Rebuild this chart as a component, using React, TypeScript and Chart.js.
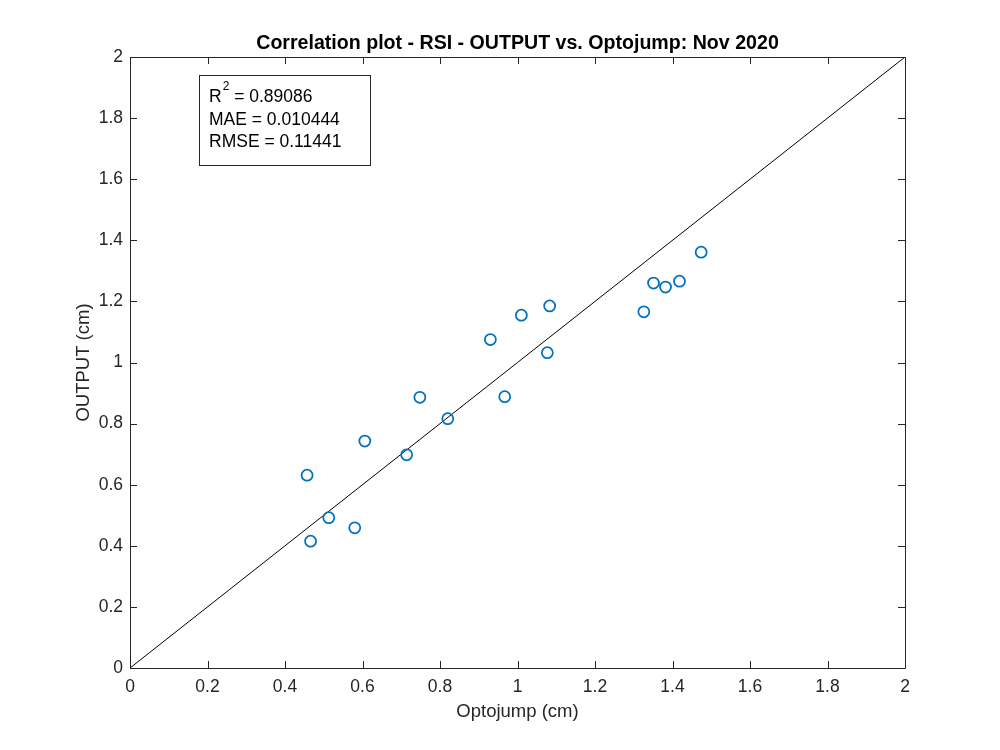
import React, { useEffect, useRef } from "react";
import { Chart, registerables } from "chart.js";

Chart.register(...registerables);

const optojump = [0.457, 0.466, 0.513, 0.58, 0.606, 0.714, 0.748, 0.82, 0.93, 0.967, 1.01, 1.077, 1.083, 1.326, 1.351, 1.382, 1.418, 1.474];
const output = [0.631, 0.415, 0.492, 0.459, 0.743, 0.698, 0.886, 0.816, 1.075, 0.888, 1.155, 1.032, 1.185, 1.166, 1.26, 1.247, 1.266, 1.361];
const identityLine = [0, 2];
const statsLines = ["= 0.89086", "MAE = 0.010444", "RMSE = 0.11441"];
const titleText = "Correlation plot - RSI - OUTPUT vs. Optojump: Nov 2020";
const xLabel = "Optojump (cm)";
const yLabel = "OUTPUT (cm)";

const FONT = "'Liberation Sans', Arial, Helvetica, sans-serif";
const AXIS = "#262626";

const framePlugin = {
  id: "frame",
  afterDatasetsDraw(chart: any) {
    const { ctx, chartArea, scales } = chart;
    const { left, right, top, bottom } = chartArea;
    ctx.save();
    ctx.strokeStyle = AXIS;
    ctx.lineWidth = 1;
    ctx.beginPath();
    ctx.rect(Math.round(left) + 0.5, Math.round(top) + 0.5, Math.round(right - left), Math.round(bottom - top));
    const tl = 7;
    scales.x.ticks.forEach((t: any) => {
      const p = Math.round(scales.x.getPixelForValue(t.value)) + 0.5;
      ctx.moveTo(p, bottom);
      ctx.lineTo(p, bottom - tl);
      ctx.moveTo(p, top);
      ctx.lineTo(p, top + tl);
    });
    scales.y.ticks.forEach((t: any) => {
      const p = Math.round(scales.y.getPixelForValue(t.value)) + 0.5;
      ctx.moveTo(left, p);
      ctx.lineTo(left + tl, p);
      ctx.moveTo(right, p);
      ctx.lineTo(right - tl, p);
    });
    ctx.stroke();

    // title centred over the plot area
    ctx.fillStyle = "#000";
    ctx.textAlign = "center";
    ctx.textBaseline = "alphabetic";
    ctx.font = `bold 19.6px ${FONT}`;
    ctx.fillText(titleText, (left + right) / 2, 49);

    // stats box
    const bx = 199.5, by = 75.5, bw = 171, bh = 90;
    ctx.fillStyle = "#fff";
    ctx.fillRect(bx, by, bw, bh);
    ctx.strokeStyle = AXIS;
    ctx.strokeRect(bx, by, bw, bh);
    ctx.fillStyle = "#000";
    ctx.textAlign = "left";
    ctx.font = `17.5px ${FONT}`;
    const tx = 209;
    ctx.fillText("R", tx, 102);
    const rw = ctx.measureText("R").width;
    ctx.font = `12px ${FONT}`;
    ctx.fillText("2", tx + rw + 1, 90);
    const sw = ctx.measureText("2").width;
    ctx.font = `17.5px ${FONT}`;
    ctx.fillText(" " + statsLines[0], tx + rw + 1 + sw, 102);
    ctx.fillText(statsLines[1], tx, 124.5);
    ctx.fillText(statsLines[2], tx, 147);
    ctx.restore();
  },
};

export default function App() {
  const ref = useRef<HTMLCanvasElement | null>(null);
  useEffect(() => {
    if (!ref.current) return;
    const pts = optojump.map((x, i) => ({ x, y: output[i] }));
    const diag = identityLine.map((v) => ({ x: v, y: v }));
    const chart = new Chart(ref.current, {
      type: "scatter",
      data: {
        datasets: [
          {
            data: pts,
            pointRadius: 5.5,
            pointBorderWidth: 1.75,
            pointBorderColor: "#0072BD",
            pointBackgroundColor: "rgba(0,0,0,0)",
            showLine: false,
            order: 1,
          } as any,
          {
            data: diag,
            showLine: true,
            borderColor: "#000",
            borderWidth: 1,
            pointRadius: 0,
            order: 2,
          } as any,
        ],
      },
      options: {
        animation: false,
        responsive: false,
        layout: { padding: { left: 0, right: 95, top: 57, bottom: 0 } },
        plugins: {
          legend: { display: false },
          tooltip: { enabled: false },
          title: { display: false },
        },
        scales: {
          x: {
            type: "linear",
            min: 0,
            max: 2,
            grid: { display: false, drawTicks: false },
            border: { display: false },
            ticks: {
              stepSize: 0.2,
              color: AXIS,
              padding: 9,
              maxRotation: 0,
              font: { family: FONT, size: 17.5 },
              callback: (v: any) => String(Number(Number(v).toFixed(1))),
            },
            title: {
              display: true,
              text: xLabel,
              color: AXIS,
              font: { family: FONT, size: 18.5 },
              padding: { top: 0, bottom: 27 },
            },
            afterFit: (s: any) => {
              s.height = 82;
            },
          },
          y: {
            type: "linear",
            min: 0,
            max: 2,
            grid: { display: false, drawTicks: false },
            border: { display: false },
            ticks: {
              stepSize: 0.2,
              color: AXIS,
              padding: 7,
              font: { family: FONT, size: 17.5 },
              callback: (v: any) => String(Number(Number(v).toFixed(1))),
            },
            title: {
              display: true,
              text: yLabel,
              color: AXIS,
              font: { family: FONT, size: 18.5 },
              padding: { top: 73, bottom: 0 },
            },
            afterFit: (s: any) => {
              s.width = 130;
            },
          },
        },
      },
      plugins: [framePlugin],
    });
    return () => chart.destroy();
  }, []);
  return (
    <div style={{ position: "absolute", left: 0, top: 0, width: 1000, height: 750, background: "#fff" }}>
      <canvas ref={ref} width={1000} height={750} style={{ width: 1000, height: 750, display: "block" }} />
    </div>
  );
}
